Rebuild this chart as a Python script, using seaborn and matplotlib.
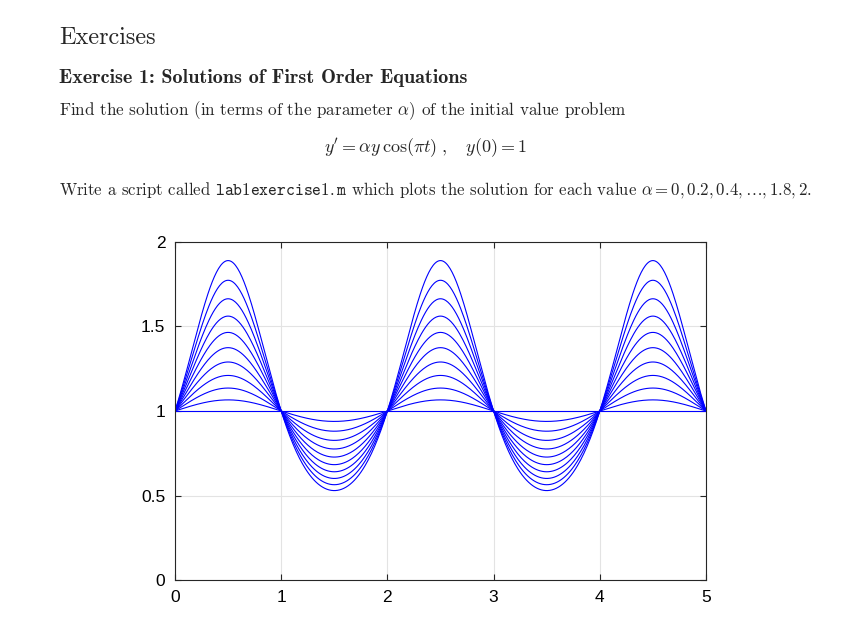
import numpy as np
import pandas as pd
import matplotlib
matplotlib.use("Agg")
import matplotlib.pyplot as plt
import seaborn as sns

# Parameter values alpha = 0, 0.2, ..., 2
alphas = [0.0, 0.2, 0.4, 0.6, 0.8, 1.0, 1.2, 1.4, 1.6, 1.8, 2.0]
t = np.linspace(0, 5, 501)
xticks = [0, 1, 2, 3, 4, 5]
yticks = [0, 0.5, 1, 1.5, 2]
ytick_labels = ["0", "0.5", "1", "1.5", "2"]

# Solution of the IVP y' = a*y*cos(pi t), y(0)=1
rows = []
for a in alphas:
    y = np.exp(a / np.pi * np.sin(np.pi * t))
    rows.append(pd.DataFrame({"t": t, "y": y, "alpha": a}))
df = pd.concat(rows, ignore_index=True)

sns.set_style("white")
plt.rcParams["mathtext.fontset"] = "cm"
plt.rcParams["axes.unicode_minus"] = False

fig = plt.figure(figsize=(8.62, 6.37), dpi=100)
fig.patch.set_facecolor("white")

fig.text(59/862, 1-38/637, "Exercises", family="cmr10", fontsize=17.5, va="center")
fig.text(59/862, 1-78/637, "Exercise 1: Solutions of First Order Equations",
         family="cmb10", fontsize=14.5, va="center")
fig.text(59/862, 1-111/637,
         r"Find the solution (in terms of the parameter $\alpha$) of the initial value problem",
         family="cmr10", fontsize=12.3, va="center")
fig.text(426/862, 1-148/637, r"$y' = \alpha y\,\cos(\pi t)\;,\quad y(0) = 1$",
         fontsize=13, ha="center", va="center")
fig.text(59/862, 1-191/637,
         r"Write a script called $\mathtt{lab1exercise1.m}$ which plots the solution for each value $\alpha = 0, 0.2, 0.4, \ldots, 1.8, 2.$",
         family="cmr10", fontsize=12.1, va="center")

ax = fig.add_axes([175/862, 1-580/637, 531/862, 338/637])
sns.lineplot(data=df, x="t", y="y", hue="alpha", units="alpha", estimator=None,
             palette=["#0000ff"]*len(alphas), linewidth=0.8, legend=False, ax=ax)
ax.set_xlim(0, 5)
ax.set_ylim(0, 2)
ax.set_xticks(xticks)
ax.set_yticks(yticks)
ax.set_yticklabels(ytick_labels)
ax.set_xlabel("")
ax.set_ylabel("")
ax.grid(True, color="#e3e3e3", linewidth=0.8)
ax.set_axisbelow(True)
for s in ax.spines.values():
    s.set_color("#262626")
    s.set_linewidth(0.8)
ax.tick_params(direction="in", length=4, labelsize=12.5, colors="#262626", pad=7,
               top=True, right=True, bottom=True, left=True)
for lab in ax.get_xticklabels() + ax.get_yticklabels():
    lab.set_family("Liberation Sans")
    lab.set_color("black")

fig.savefig("out.png", dpi=100)
